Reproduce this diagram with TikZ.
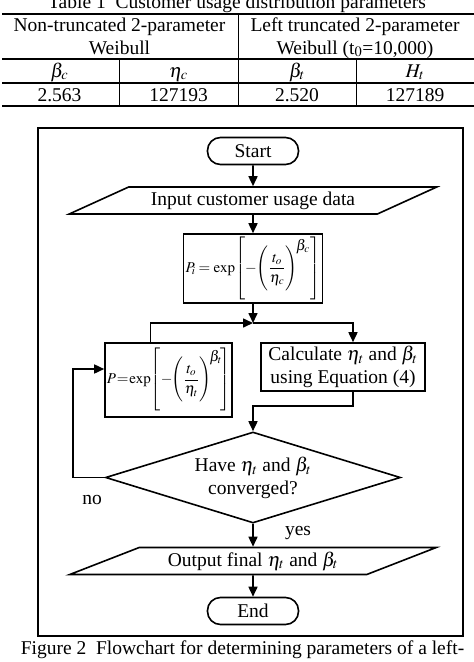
\documentclass[tikz,border=0pt]{standalone}
\usepackage{amsmath}
\usepackage{mathptmx}
\usepackage{fontspec}
\setmainfont{Liberation Serif}
\usetikzlibrary{arrows.meta,shapes.geometric}

\begin{document}
\begin{tikzpicture}[x=1pt,y=-1pt,
  font=\fontsize{19.5}{23}\selectfont,
  rule/.style={line width=1.5pt},
  arr/.style={line width=1.6pt,-{Triangle[length=10pt,width=9pt]}},
  term/.style={draw,line width=1.6pt,rounded corners=13pt,minimum width=91pt,minimum height=27pt,inner sep=0pt},
  io/.style={draw,line width=1.6pt,trapezium,trapezium left angle=20,trapezium right angle=160,
    trapezium stretches=true,minimum width=368pt,minimum height=27pt,inner sep=0pt},
  proc/.style={draw,line width=1.6pt,inner sep=0pt,align=center},
  test/.style={draw,line width=1.6pt,diamond,shape aspect=3.24,minimum width=295pt,minimum height=91pt,
    inner sep=0pt,align=center},
  eqn/.style={font=\fontsize{15}{17}\selectfont}]
  \useasboundingbox (0,0) rectangle (474,662);

  % table above the figure
  \node[anchor=base] (tabtitle) at (237,8) {Table 1\ \ Customer usage distribution parameters};
  \draw[rule] (2,14) -- (474,14);
  \draw[rule] (2,59) -- (474,59);
  \draw[rule] (2,83) -- (474,83);
  \draw[rule] (2,106) -- (474,106);
  \draw[line width=1pt] (238,14) -- (238,106);
  \foreach \x in {119,356}
    \draw[line width=1pt] (\x,59) -- (\x,106);
  \node[anchor=base] (hdnon) at (119.5,31.7) {Non-truncated 2-parameter};
  \node[anchor=base] (hdnonb) at (119.5,54) {Weibull};
  \node[anchor=base] (hdleft) at (355,31.7) {Left truncated 2-parameter};
  \node[anchor=base] (hdleftb) at (355,54) {Weibull (t$_0$=10,000)};
  \foreach \x/\lab/\val [count=\i] in {59.5/{$\beta_c$}/2.563, 178.5/{$\eta_c$}/127193,
      297/{$\beta_t$}/2.520, 415/{$H_t$}/127189}{
    \node[anchor=base] (sym\i) at (\x,77) {\lab};
    \node[anchor=base] (val\i) at (\x,101) {\val};
  }

  % flowchart frame
  \draw[line width=1.2pt] (38,128) rectangle (463,636);

  \node[term] (start) at (253,151) {Start};
  \node[io] (input) at (253,200.5) {Input customer usage data};
  \node[proc,minimum width=139pt,minimum height=69pt,eqn] (pibox) at (253,268.5)
    {$P_{\!i} = \exp\!\left[\rule[-27pt]{0pt}{54pt}{-}\mkern-2mu\left(\rule[-19pt]{0pt}{38pt}\dfrac{t_o}{\eta_c}\right)^{\!\textstyle\beta_c}\right]$};
  \coordinate (join) at (253,323);
  \node[proc,minimum width=127pt,minimum height=74pt,eqn] (pbox) at (168.5,380)
    {$P\mkern-3mu=\mkern-3mu\exp\!\left[\rule[-28pt]{0pt}{56pt}{-}\mkern-3mu\left(\rule[-19pt]{0pt}{38pt}\dfrac{t_o}{\eta_t}\right)^{\!\textstyle\beta_t}\mkern-3mu\right]$};
  \node[proc,minimum width=164pt,minimum height=48pt] (calc) at (343,367)
    {Calculate $\eta_t$ and $\beta_t$\\using Equation (4)};
  \node[test] (conv) at (253,477.5) {Have $\eta_t$ and $\beta_t$\\converged?};
  \node[io] (output) at (253,561) {Output final $\eta_t$ and $\beta_t$};
  \node[term] (end) at (253,611) {End};

  % connectors
  \draw[arr] (start) -- (input);
  \draw[arr] (input) -- (pibox);
  \draw[arr] (pibox) -- (join);
  \draw[arr] ([xshift=-18pt]pbox.north) |- (join);
  \draw[arr] (join) -| ([xshift=10pt]calc.north);
  \draw[arr] ([xshift=10pt]calc.south) -- ++(0,14) -| (conv.north);
  \draw[arr] (conv.west) -- ++(-32,0) |- ([yshift=11pt]pbox.west);
  \node (no) at (92,500) {no};
  \draw[arr] (conv) -- (output);
  \node (yes) at (298,533) {yes};
  \draw[arr] (output) -- (end);

  % caption below, cut by the page edge
  \node[anchor=base] (caption) at (242.5,654) {Figure 2\ \ Flowchart for determining parameters of a left-};
\end{tikzpicture}
\end{document}
